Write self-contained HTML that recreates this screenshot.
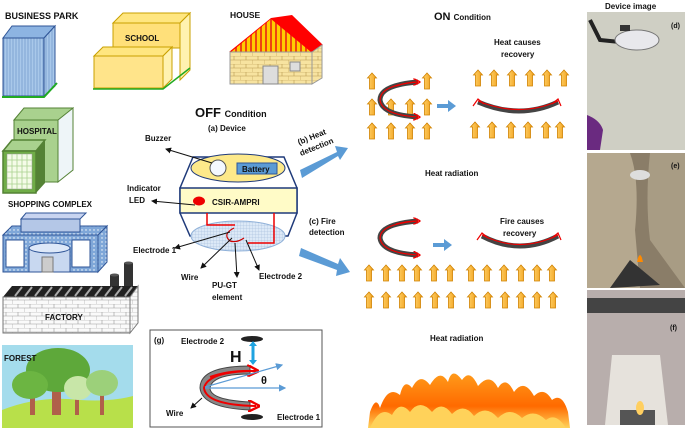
<!DOCTYPE html>
<html><head><meta charset="utf-8"><style>
html,body{margin:0;padding:0;background:#fff}
svg{display:block}
text{font-family:"Liberation Sans",sans-serif;font-weight:bold;fill:#111}
</style></head><body>
<svg width="685" height="428" viewBox="0 0 685 428" xmlns="http://www.w3.org/2000/svg">
<defs>
<linearGradient id="og" x1="0" x2="1"><stop offset="0" stop-color="#ffd36b"/><stop offset="1" stop-color="#f2a21f"/></linearGradient>
<linearGradient id="fire" x1="0" y1="0" x2="0" y2="1"><stop offset="0" stop-color="#ff9a1a"/><stop offset="0.6" stop-color="#ff6a00"/><stop offset="1" stop-color="#ffd25a"/></linearGradient>
<pattern id="grid" width="3" height="3" patternUnits="userSpaceOnUse"><rect width="3" height="3" fill="#dce9f7"/><path d="M0 0H3M0 0V3" stroke="#9fb8d8" stroke-width="0.5"/></pattern>
<pattern id="brick" width="12" height="8" patternUnits="userSpaceOnUse"><rect width="12" height="8" fill="#f7e3a0"/><path d="M0 0H12M0 4H12M6 0V4M0 4V8" stroke="#b89a50" stroke-width="0.6"/></pattern>
<pattern id="wbrick" width="12" height="8" patternUnits="userSpaceOnUse"><rect width="12" height="8" fill="#fafafa"/><path d="M0 0H12M0 4H12M6 0V4M0 4V8" stroke="#999" stroke-width="0.6"/></pattern>
<pattern id="vstr" width="3" height="3" patternUnits="userSpaceOnUse"><rect width="3" height="3" fill="#a9c8ea"/><path d="M1 0V3" stroke="#6d95c8" stroke-width="0.7"/></pattern>
<pattern id="rstr" width="5" height="5" patternUnits="userSpaceOnUse"><rect width="5" height="5" fill="#ffcc00"/><path d="M1 0V5" stroke="#e41" stroke-width="2"/></pattern>
<pattern id="dots" width="4" height="4" patternUnits="userSpaceOnUse"><rect width="4" height="4" fill="#7fa7d8"/><circle cx="2" cy="2" r="0.7" fill="#fff"/></pattern>
<g id="ua"><path d="M-2.5 16V5H-4.5L0 0L4.5 5H2.5V16Z" fill="url(#og)" stroke="#d08200" stroke-width="0.8"/></g>
<marker id="ah" markerWidth="6" markerHeight="6" refX="5" refY="3" orient="auto"><path d="M0 0L6 3L0 6Z" fill="#111"/></marker>
<marker id="bh" markerWidth="6" markerHeight="6" refX="5" refY="3" orient="auto"><path d="M0 0L6 3L0 6Z" fill="#5b9bd5"/></marker>
<marker id="rh" markerWidth="6" markerHeight="6" refX="4" refY="3" orient="auto"><path d="M0 0L6 3L0 6" fill="none" stroke="#e00" stroke-width="1.2"/></marker>
</defs>

<text x="5" y="19" font-size="9">BUSINESS PARK</text>
<path d="M3 38L12 26H55L44 38Z" fill="#8db4e2" stroke="#2f5597"/>
<path d="M44 38L55 26V86L44 96Z" fill="url(#vstr)" stroke="#2f5597"/>
<rect x="3" y="38" width="41" height="58" fill="url(#vstr)" stroke="#2f5597"/>
<path d="M2 97H44L57 83" stroke="#2a2" stroke-width="2" fill="none"/>
<path d="M113 23L123 13H190L180 23Z" fill="#ffe680" stroke="#c9a000"/>
<rect x="113" y="23" width="67" height="25" fill="#ffe07a" stroke="#c9a000"/>
<path d="M180 23L190 13V70L180 80Z" fill="#fff2b0" stroke="#c9a000"/>
<text x="125" y="41" font-size="8">SCHOOL</text>
<path d="M94 56L103 47H172L163 56Z" fill="#ffe680" stroke="#c9a000"/>
<rect x="94" y="56" width="69" height="32" fill="#ffe48a" stroke="#c9a000"/>
<path d="M163 56L172 47V79L163 88Z" fill="#fff2b0" stroke="#c9a000"/>
<path d="M93 89H163L190 68" stroke="#2a2" stroke-width="1.5" fill="none"/>
<text x="230" y="18" font-size="8.5">HOUSE</text>
<path d="M229 52L271 18L292 15L323 45L313 52Z" fill="#f00"/>
<path d="M231 52L271 19L311 52Z" fill="url(#rstr)"/>
<rect x="230" y="52" width="82" height="32" fill="url(#brick)" stroke="#999"/>
<path d="M312 52L322 45V78L312 84Z" fill="url(#brick)" stroke="#999"/>
<rect x="263" y="66" width="15" height="18" fill="#ddd" stroke="#888"/>
<rect x="290" y="62" width="10" height="9" fill="#ddd" stroke="#888"/>
<path d="M14 120L24 108H73L63 120Z" fill="#a9d18e" stroke="#548235"/>
<rect x="14" y="120" width="44" height="62" fill="#a9d18e" stroke="#548235"/>
<path d="M58 120L73 108V170L58 182Z" fill="#eef5f8" stroke="#548235"/>
<text x="17" y="134" font-size="8">HOSPITAL</text>
<path d="M3 151L12 140H45L36 151Z" fill="#a9d18e" stroke="#548235" stroke-width="1.5"/>
<rect x="3" y="151" width="33" height="42" fill="#70ad47" stroke="#548235" stroke-width="1.5"/>
<rect x="7" y="154" width="25" height="35" fill="#f5fbe8" stroke="#999" stroke-width="0.5"/>
<path d="M7 160H32M7 166H32M7 172H32M7 178H32M7 184H32M12 154V189M17 154V189M22 154V189M27 154V189" stroke="#a9d18e" stroke-width="0.8"/>
<path d="M36 151L45 140V183L36 193Z" fill="#548235"/>
<text x="8" y="207" font-size="8">SHOPPING COMPLEX</text>
<path d="M3 235L12 226H107L98 235Z" fill="url(#dots)" stroke="#2f5597"/>
<rect x="3" y="235" width="95" height="37" fill="url(#dots)" stroke="#2f5597"/>
<path d="M98 235L107 226V262L98 272Z" fill="url(#dots)" stroke="#2f5597"/>
<rect x="6" y="240" width="18" height="27" fill="#fff" stroke="#2f5597"/>
<rect x="72" y="240" width="18" height="27" fill="#fff" stroke="#2f5597"/>
<path d="M21 219L26 213H86L80 219Z" fill="#c8d4f0" stroke="#2f5597"/>
<rect x="21" y="219" width="59" height="13" fill="#b4c7e7" stroke="#2f5597"/>
<rect x="29" y="248" width="41" height="24" fill="#c8d8f0" stroke="#2f5597"/>
<ellipse cx="49.5" cy="248" rx="20.5" ry="5" fill="#dde8f8" stroke="#2f5597"/>
<rect x="42" y="257" width="11" height="15" fill="#ccc" stroke="#777"/>
<rect x="110" y="275" width="9" height="13" fill="#333"/><ellipse cx="114.5" cy="275" rx="4.5" ry="1.5" fill="#555"/>
<rect x="124" y="263" width="9" height="25" fill="#333"/><ellipse cx="128.5" cy="263" rx="4.5" ry="1.5" fill="#555"/>
<path d="M3 297L12 286H138L130 297Z" fill="#222"/>
<path d="M15 296L22 287M25 296L32 287M35 296L42 287M45 296L52 287M55 296L62 287M65 296L72 287M75 296L82 287M85 296L92 287M95 296L102 287M105 296L112 287M115 296L122 287M125 296L132 287" stroke="#aaa" stroke-width="2"/>
<rect x="3" y="297" width="127" height="36" fill="url(#wbrick)" stroke="#777"/>
<path d="M130 297L138 286V323L130 333Z" fill="url(#wbrick)" stroke="#777"/>
<text x="45" y="320" font-size="8">FACTORY</text>
<rect x="2" y="345" width="131" height="83" fill="#a4dcec"/>
<path d="M2 410Q40 395 80 400Q110 402 133 396V428H2Z" fill="#b8e04a"/>
<rect x="52" y="375" width="9" height="40" fill="#b0604a"/>
<rect x="30" y="395" width="5" height="20" fill="#b0604a"/>
<rect x="75" y="395" width="4" height="20" fill="#b0604a"/>
<rect x="100" y="395" width="4" height="20" fill="#b0604a"/>
<ellipse cx="58" cy="370" rx="32" ry="22" fill="#5ea83a"/>
<ellipse cx="30" cy="385" rx="18" ry="14" fill="#6cb542"/>
<ellipse cx="78" cy="388" rx="14" ry="12" fill="#c8e6a8"/>
<ellipse cx="102" cy="383" rx="16" ry="13" fill="#9cd07a"/>
<text x="4" y="361" font-size="8">FOREST</text>

<text x="195" y="117" font-size="13">OFF <tspan font-size="9">Condition</tspan></text>
<text x="208" y="131" font-size="8">(a) Device</text>
<text x="145" y="141" font-size="8">Buzzer</text>
<path d="M193 157L284 157L297 188V213L288 236H190L180 213V188Z" fill="none" stroke="#1f3a7a" stroke-width="1.5"/>
<ellipse cx="238" cy="168" rx="47" ry="14" fill="#fde98a" stroke="#1f3a7a"/>
<circle cx="218" cy="168" r="8" fill="#f4f8ff" stroke="#555"/>
<rect x="237" y="163" width="40" height="11" fill="#5b9bd5" stroke="#2f5597"/>
<text x="242" y="172" font-size="8">Battery</text>
<rect x="180" y="188" width="117" height="25" fill="#fffbc7" stroke="#1f3a7a" stroke-width="1.5"/>
<ellipse cx="199" cy="201" rx="6" ry="4.5" fill="#e00"/>
<text x="212" y="205" font-size="8" font-weight="normal">CSIR-AMPRI</text>
<ellipse cx="238" cy="236" rx="47" ry="15" fill="url(#grid)" stroke="#8fb0d8"/>
<path d="M207 213V225H235M274 213V243H248" stroke="#e00" stroke-width="1.5" fill="none"/>
<path d="M234 228Q222 234 230 241Q237 243 244 238" stroke="#c00" stroke-width="1.2" fill="none"/>
<line x1="212" y1="163" x2="166" y2="149" stroke="#111" stroke-width="1" marker-end="url(#ah)"/>
<text x="127" y="191" font-size="8">Indicator</text><text x="129" y="203" font-size="8">LED</text>
<line x1="195" y1="205" x2="152" y2="201" stroke="#111" marker-end="url(#ah)"/>
<text x="133" y="253" font-size="8">Electrode 1</text>
<line x1="230" y1="232" x2="175" y2="248" stroke="#111" marker-end="url(#ah)"/>
<text x="181" y="280" font-size="8">Wire</text>
<line x1="232" y1="238" x2="201" y2="268" stroke="#111" marker-end="url(#ah)"/>
<text x="212" y="288" font-size="8">PU-GT</text><text x="212" y="300" font-size="8">element</text>
<line x1="235" y1="243" x2="237" y2="277" stroke="#111" marker-end="url(#ah)"/>
<text x="259" y="279" font-size="8">Electrode 2</text>
<line x1="246" y1="240" x2="259" y2="270" stroke="#111" marker-end="url(#ah)"/>
<path d="M300 170L337 152L335 146L348 148L340 160L338 156L302 178Z" fill="#5b9bd5"/>
<path d="M301 248L338 264L340 258L350 272L336 276L337 270L299 256Z" fill="#5b9bd5"/>
<text x="0" y="0" font-size="8" transform="translate(299,145) rotate(-22)">(b) Heat</text>
<text x="0" y="0" font-size="8" transform="translate(301,156) rotate(-22)">detection</text>
<text x="309" y="224" font-size="8">(c)  Fire</text>
<text x="309" y="235" font-size="8">detection</text>

<rect x="150" y="330" width="172" height="97" fill="#fff" stroke="#555"/>
<text x="154" y="343" font-size="8" font-weight="normal">(g)</text>
<text x="181" y="344" font-size="8">Electrode  2</text>
<ellipse cx="252" cy="339" rx="11" ry="3" fill="#222"/>
<ellipse cx="252" cy="417" rx="11" ry="3" fill="#222"/>
<text x="230" y="362" font-size="16">H</text>
<line x1="253" y1="343" x2="253" y2="363" stroke="#1fa3e0" stroke-width="3"/>
<path d="M249 346L253 341L257 346ZM249 360L253 365L257 360Z" fill="#1fa3e0"/>
<path d="M250 366Q200 366 200 388Q202 408 250 410L250 402Q210 400 210 388Q212 374 250 374Z" fill="#888" stroke="#444"/>
<path d="M256 371Q208 371 204 388Q206 405 256 406" stroke="#e00" stroke-width="2" fill="none" marker-end="url(#rh)"/>
<path d="M210 377Q230 370 255 371" stroke="#e00" stroke-width="2" fill="none" marker-end="url(#rh)"/>
<line x1="205" y1="387" x2="282" y2="365" stroke="#5b9bd5" stroke-width="1.2" marker-end="url(#bh)"/>
<line x1="205" y1="388" x2="285" y2="388" stroke="#5b9bd5" stroke-width="1.2" marker-end="url(#bh)"/>
<text x="261" y="384" font-size="11">θ</text>
<text x="166" y="416" font-size="8">Wire</text>
<line x1="202" y1="398" x2="191" y2="408" stroke="#111" marker-end="url(#ah)"/>
<text x="277" y="420" font-size="8">Electrode  1</text>

<text x="434" y="20" font-size="11">ON <tspan font-size="8">Condition</tspan></text>
<text x="494" y="45" font-size="8">Heat causes</text>
<text x="501" y="57" font-size="8">recovery</text>
<g>
<use href="#ua" x="372" y="73"/><use href="#ua" x="427" y="73"/>
<use href="#ua" x="372" y="99"/><use href="#ua" x="391" y="99"/><use href="#ua" x="410" y="99"/><use href="#ua" x="427" y="99"/>
<use href="#ua" x="372" y="123"/><use href="#ua" x="391" y="123"/><use href="#ua" x="410" y="123"/><use href="#ua" x="427" y="123"/>
</g>
<path d="M418 82Q380 85 380 100Q382 115 418 117" stroke="#444" stroke-width="5" fill="none"/>
<path d="M418 82Q380 85 380 100Q382 115 418 117" stroke="#e00" stroke-width="1.2" fill="none" marker-end="url(#rh)"/>
<path d="M396 86Q408 82 418 82" stroke="#e00" stroke-width="1.2" fill="none" marker-end="url(#rh)"/>
<path d="M437 104H448V100L456 106L448 112V108H437Z" fill="#5b9bd5"/>
<g>
<use href="#ua" x="478" y="70"/><use href="#ua" x="494" y="70"/><use href="#ua" x="512" y="70"/><use href="#ua" x="530" y="70"/><use href="#ua" x="547" y="70"/><use href="#ua" x="564" y="70"/>
<use href="#ua" x="475" y="122"/><use href="#ua" x="492" y="122"/><use href="#ua" x="511" y="122"/><use href="#ua" x="528" y="122"/><use href="#ua" x="546" y="122"/><use href="#ua" x="560" y="122"/>
</g>
<path d="M478 102Q520 120 558 102" stroke="#444" stroke-width="5" fill="none"/>
<path d="M478 101Q520 118 558 101" stroke="#e00" stroke-width="1.2" fill="none"/>
<path d="M473 106L478 99L484 104M552 104L558 99L561 106" stroke="#e00" stroke-width="1.2" fill="none"/>
<text x="425" y="176" font-size="8">Heat radiation</text>

<text x="500" y="224" font-size="8">Fire causes</text>
<text x="503" y="236" font-size="8">recovery</text>
<path d="M418 221Q380 224 380 238Q382 253 418 255" stroke="#444" stroke-width="5" fill="none"/>
<path d="M418 221Q380 224 380 238Q382 253 418 255" stroke="#e00" stroke-width="1.2" fill="none" marker-end="url(#rh)"/>
<path d="M396 224Q408 221 418 221" stroke="#e00" stroke-width="1.2" fill="none" marker-end="url(#rh)"/>
<path d="M433 243H444V239L452 245L444 251V247H433Z" fill="#5b9bd5"/>
<path d="M482 236Q520 256 558 236" stroke="#444" stroke-width="5" fill="none"/>
<path d="M482 235Q520 254 558 235" stroke="#e00" stroke-width="1.2" fill="none"/>
<path d="M477 240L482 233L488 238M552 238L558 233L561 240" stroke="#e00" stroke-width="1.2" fill="none"/>
<g>
<use href="#ua" x="369" y="265"/><use href="#ua" x="386" y="265"/><use href="#ua" x="402" y="265"/><use href="#ua" x="417" y="265"/><use href="#ua" x="434" y="265"/><use href="#ua" x="450" y="265"/><use href="#ua" x="471" y="265"/><use href="#ua" x="487" y="265"/><use href="#ua" x="504" y="265"/><use href="#ua" x="521" y="265"/><use href="#ua" x="537" y="265"/><use href="#ua" x="552" y="265"/>
<use href="#ua" x="369" y="292"/><use href="#ua" x="386" y="292"/><use href="#ua" x="402" y="292"/><use href="#ua" x="418" y="292"/><use href="#ua" x="435" y="292"/><use href="#ua" x="451" y="292"/><use href="#ua" x="472" y="292"/><use href="#ua" x="488" y="292"/><use href="#ua" x="505" y="292"/><use href="#ua" x="521" y="292"/><use href="#ua" x="537" y="292"/><use href="#ua" x="553" y="292"/>
</g>
<text x="430" y="341" font-size="8">Heat radiation</text>
<path d="M368 428L370 412Q376 395 380 408Q388 385 400 395Q404 378 412 388Q420 372 430 385Q440 368 448 382Q452 366 462 380Q470 368 478 386Q490 372 498 388Q506 375 514 392Q524 378 534 396Q544 386 552 400Q562 392 568 412L570 428Z" fill="url(#fire)"/>
<path d="M370 428Q380 405 392 415Q400 400 410 412Q420 398 432 412Q442 400 452 414Q464 402 474 416Q486 404 498 418Q510 406 522 418Q534 408 546 420Q556 412 566 428Z" fill="#ffd25a"/>

<text x="605" y="9" font-size="8" font-weight="normal">Device image</text>
<rect x="587" y="12" width="98" height="138" fill="#cfcfc4"/>
<path d="M587 115Q600 120 603 130L600 150H587Z" fill="#6a2a80"/>
<path d="M590 20L600 40L620 42" stroke="#222" stroke-width="4" fill="none"/>
<ellipse cx="637" cy="40" rx="22" ry="10" fill="#e8e8ec" stroke="#777"/>
<rect x="620" y="25" width="10" height="6" fill="#333"/>
<text x="671" y="28" font-size="7">(d)</text>
<rect x="587" y="153" width="98" height="135" fill="#8a7d68"/>
<path d="M630 153Q640 180 635 230L640 288H600L587 288V153Z" fill="#b5a88f"/>
<path d="M650 153Q645 200 650 240L685 288V153Z" fill="#a89c84"/>
<ellipse cx="640" cy="175" rx="10" ry="5" fill="#ddd"/>
<path d="M610 288L630 260L660 285Z" fill="#333"/>
<path d="M637 262Q640 248 643 262Z" fill="#ff8a00"/>
<text x="671" y="168" font-size="7">(e)</text>
<rect x="587" y="290" width="98" height="135" fill="#b8aeac"/>
<rect x="587" y="298" width="98" height="15" fill="#444"/>
<path d="M605 425L612 355H660L668 425Z" fill="#e6e2dc"/>
<rect x="620" y="410" width="35" height="15" fill="#555"/>
<ellipse cx="640" cy="408" rx="4" ry="7" fill="#ffcf60"/>
<text x="670" y="330" font-size="7">(f)</text>
</svg>
</body></html>
